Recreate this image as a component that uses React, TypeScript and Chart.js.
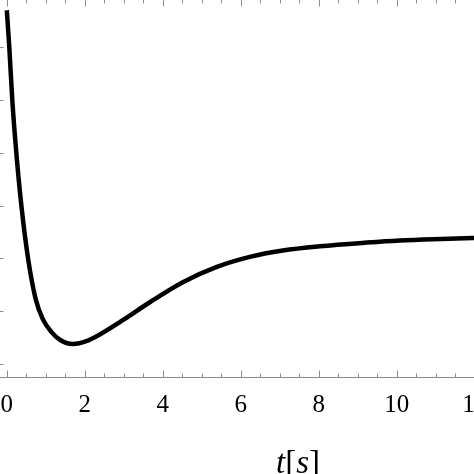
import { useEffect, useRef, useState } from 'react';
import { Chart, registerables } from 'chart.js';

Chart.register(...registerables);

// time values t [s]
const tValues = [0, 0.064, 0.141, 0.244, 0.372, 0.551, 0.744, 0.923, 1.154, 1.359, 1.692, 2.077, 2.385, 2.974, 3.667, 4.513, 5.385, 6.231, 7.077, 8.026, 9.231, 10.077, 10.923, 11.949, 12.3];
// response values
const yValues = [6.7, 6.0, 5.0, 4.0, 3.01, 1.97, 1.22, 0.85, 0.6, 0.46, 0.38, 0.445, 0.56, 0.83, 1.17, 1.55, 1.84, 2.03, 2.15, 2.23, 2.3, 2.34, 2.365, 2.385, 2.39];

const xMajorTicks = [0, 2, 4, 6, 8, 10, 12];
const xTickLabels = ['0', '2', '4', '6', '8', '10', '12'];
const yTicks = [0, 1, 2, 3, 4, 5, 6];

const SERIF = '"Liberation Serif"';
const OFFSET = 20; // canvas shifted up/left of the viewport
const CW = 540;
const CH = 500;
const PAD = { left: 19, top: 19, right: 33.5, bottom: 103 };
const X_MIN = -0.2;
const X_MAX = 12.3;

const axesPlugin = {
  id: 'mmaAxes',
  afterDraw(chart: any) {
    const { ctx, chartArea: a, scales } = chart;
    const xs = scales.x;
    const ys = scales.y;
    const px = (v: number) => Math.round(xs.getPixelForValue(v)) + 0.5;
    ctx.save();
    ctx.strokeStyle = '#8c8c8c';
    ctx.lineWidth = 1;
    const bottom = Math.round(a.bottom) + 0.5;
    const top = Math.round(a.top) + 0.5;
    const left = Math.round(a.left) + 0.5;
    ctx.beginPath();
    ctx.moveTo(a.left, bottom);
    ctx.lineTo(a.right, bottom);
    const minor: number[] = [];
    for (let i = 0; i < xMajorTicks.length - 1; i++) {
      const s = (xMajorTicks[i + 1] - xMajorTicks[i]) / 4;
      for (let k = 1; k < 4; k++) minor.push(xMajorTicks[i] + k * s);
    }
    xMajorTicks.forEach((v) => {
      const p = px(v);
      ctx.moveTo(p, bottom);
      ctx.lineTo(p, bottom - 7);
      ctx.moveTo(p, top);
      ctx.lineTo(p, top + 7);
    });
    minor.forEach((v) => {
      const p = px(v);
      ctx.moveTo(p, bottom);
      ctx.lineTo(p, bottom - 4);
      ctx.moveTo(p, top);
      ctx.lineTo(p, top + 4);
    });
    yTicks.forEach((v) => {
      const p = Math.round(ys.getPixelForValue(v)) + 0.5;
      ctx.moveTo(left, p);
      ctx.lineTo(left + 4, p);
    });
    ctx.stroke();
    ctx.restore();
  },
};

type Lbl = { x: number; text: string };

// first-render estimate of label positions (replaced by the scale's own values once the chart exists)
const plotW = CW - PAD.left - PAD.right;
const initialLabels: Lbl[] = xMajorTicks.map((v, i) => ({
  x: PAD.left - OFFSET + ((v - X_MIN) / (X_MAX - X_MIN)) * plotW,
  text: xTickLabels[i],
}));

export default function App() {
  const ref = useRef<HTMLCanvasElement>(null);
  const [labels, setLabels] = useState<Lbl[]>(initialLabels);
  const [axisBottom, setAxisBottom] = useState(CH - PAD.bottom - OFFSET);
  useEffect(() => {
    const chart = new Chart(ref.current!, {
      type: 'line',
      data: {
        datasets: [
          {
            data: tValues.map((t, i) => ({ x: t, y: yValues[i] })),
            borderColor: '#000',
            borderWidth: 4.5,
            pointRadius: 0,
            cubicInterpolationMode: 'monotone',
            fill: false,
            borderCapStyle: 'butt',
          },
        ],
      },
      options: {
        responsive: false,
        animation: false,
        devicePixelRatio: 1,
        layout: { padding: PAD },
        plugins: { legend: { display: false }, tooltip: { enabled: false } },
        scales: {
          x: { type: 'linear', min: X_MIN, max: X_MAX, display: false },
          y: { type: 'linear', min: -0.246, max: 6.913, display: false },
        },
      },
      plugins: [axesPlugin],
    } as any);
    const xs = chart.scales.x;
    setLabels(xMajorTicks.map((v, i) => ({ x: xs.getPixelForValue(v) - OFFSET, text: xTickLabels[i] })));
    setAxisBottom(chart.chartArea.bottom - OFFSET);
    return () => chart.destroy();
  }, []);
  return (
    <div style={{ position: 'fixed', left: 0, top: 0, width: 474, height: 474, overflow: 'hidden', background: '#fff', fontFamily: SERIF }}>
      <canvas ref={ref} width={CW} height={CH} style={{ position: 'absolute', left: -OFFSET, top: -OFFSET, width: CW, height: CH }} />
      {labels.map((l) => (
        <span
          key={l.text}
          style={{
            position: 'absolute',
            left: l.x,
            top: axisBottom + 14,
            transform: 'translateX(-50%)',
            fontFamily: SERIF,
            fontSize: 25,
            lineHeight: '25px',
            color: '#000',
            whiteSpace: 'nowrap',
          }}
        >
          {l.text}
        </span>
      ))}
      <span
        style={{
          position: 'absolute',
          left: 276,
          top: axisBottom + 68.5,
          fontFamily: SERIF,
          fontSize: 33,
          lineHeight: '33px',
          color: '#000',
          whiteSpace: 'nowrap',
        }}
      >
        <i style={{ fontFamily: SERIF }}>t</i>[<i style={{ fontFamily: SERIF }}>s</i>]
      </span>
    </div>
  );
}
